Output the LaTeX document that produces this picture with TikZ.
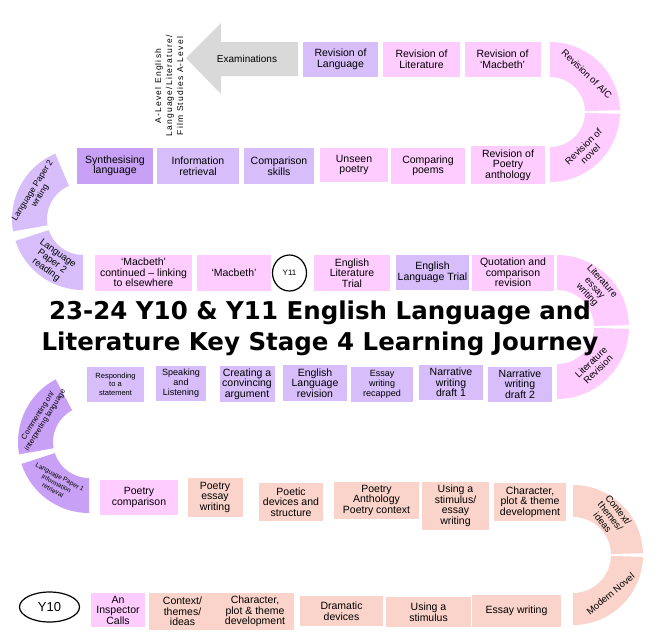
\documentclass[tikz,border=0pt]{standalone}
\usepackage{fontspec}
\setmainfont{Liberation Sans}
\newfontfamily\titlefont{DejaVu Sans}
\newfontfamily\spacedfont[LetterSpace=14]{Liberation Sans}
\usepackage{graphicx}
\usetikzlibrary{shapes.geometric, calc}
\definecolor{lilacbox}{RGB}{215, 190, 250}
\definecolor{violetbox}{RGB}{200, 160, 245}
\definecolor{pinkbox}{RGB}{255, 204, 255}
\definecolor{peachbox}{RGB}{250, 212, 202}
\definecolor{arrowgrey}{RGB}{217, 217, 217}
\newcommand{\boxfont}{\fontsize{10.5}{10.5}\selectfont}
% bend of the track: centre, from angle, to angle, inner radius, outer radius, colour
\newcommand{\trackbend}[6]{%
  \fill[#6] ($(#1)+({-(#2)}:#5)$) arc[start angle={-(#2)}, end angle={-(#3)}, radius=#5]
    -- ($(#1)+({-(#3)}:#4)$) arc[start angle={-(#3)}, end angle={-(#2)}, radius=#4] -- cycle;}

\begin{document}
\begin{tikzpicture}[
    x=1pt, y=-1pt,
    tile/.style={fill=#1, inner sep=1pt, align=center, font=\boxfont},
    bendtext/.style={align=center, inner sep=0pt, font=\fontsize{9.5}{10}\selectfont},
    yearmark/.style={draw, line width=1.2pt, ellipse, inner sep=1pt}
]
    \fill[white] (0,0) rectangle (663,643);
    \useasboundingbox (0,0) rectangle (663,643);

    % Centres of the bends
    \coordinate (bendA) at (550,112);
    \coordinate (bendB) at (557,327);
    \coordinate (bendC) at (573,555);
    \coordinate (bendL) at (83,219);
    \coordinate (bendM) at (89,442);

    % Exit arrow
    \fill[arrowgrey] (186,58) -- (221,23) -- (221,42) -- (298,42) -- (298,76) -- (221,76) -- (221,94) -- cycle;
    \node[font=\fontsize{10}{10}\selectfont] (exams) at (247,59) {Examinations};
    \node[font=\spacedfont\fontsize{8.5}{11}\selectfont, rotate=90, align=center] (alevel) at (169,86)
        {A-Level English\\Language/Literature/\\Film Studies A-Level};

    % Row 1
    \node[tile=lilacbox, minimum width=75, minimum height=35] (revlang) at (340.5,59.5) {Revision of\\Language};
    \node[tile=pinkbox, minimum width=77, minimum height=35] (revlit) at (421.5,59) {Revision of\\Literature};
    \node[tile=pinkbox, minimum width=76, minimum height=35] (revmac) at (502.5,59) {Revision of\\‘Macbeth’};
    \trackbend{bendA}{90}{1.5}{35}{70}{pinkbox}
    \trackbend{bendA}{-1.5}{-90}{35}{70}{pinkbox}
    \node[bendtext, rotate=-44] (revaic) at ($(bendA)+(-46:53)$) {Revision of AIC};
    \node[bendtext, rotate=44] (revnovel) at ($(bendA)+(46:53)$) {Revision of\\novel};

    % Row 2
    \node[tile=violetbox, minimum width=76, minimum height=36] (synth) at (115,166) {Synthesising\\language};
    \node[tile=lilacbox, minimum width=82, minimum height=36] (inforet) at (198,166) {Information\\retrieval};
    \node[tile=lilacbox, minimum width=70, minimum height=36] (compskill) at (279,166) {Comparison\\skills};
    \node[tile=pinkbox, minimum width=68, minimum height=34] (unseen) at (354,165) {Unseen\\poetry};
    \node[tile=pinkbox, minimum width=74, minimum height=36] (comppoems) at (428,166) {Comparing\\poems};
    \node[tile=pinkbox, minimum width=74, minimum height=38] (revanth) at (508,165) {Revision of\\Poetry\\anthology};
    \trackbend{bendL}{113}{190}{36}{71}{lilacbox}
    \trackbend{bendL}{198}{270}{36}{71}{lilacbox}
    \node[bendtext, rotate=58, font=\fontsize{8.5}{9}\selectfont] (lptwowrite) at ($(bendL)+(-151:53)$) {Language Paper 2\\writing};
    \node[bendtext, rotate=-36] (lptworead) at ($(bendL)+(-234:53)$) {Language\\Paper 2\\reading};

    % Row 3
    \node[tile=pinkbox, minimum width=97, minimum height=36] (maccont) at (143.5,272.5) {‘Macbeth’\\continued – linking\\to elsewhere};
    \node[tile=pinkbox, minimum width=74, minimum height=36] (mac) at (234,272.5) {‘Macbeth’};
    \node[yearmark, minimum width=34, minimum height=36, font=\fontsize{8}{8}\selectfont] (yeleven) at (289.5,273) {Y11};
    \node[tile=pinkbox, minimum width=76, minimum height=36] (littrial) at (352,273) {English\\Literature\\Trial};
    \node[tile=lilacbox, minimum width=73, minimum height=35] (langtrial) at (432.5,272.5) {English\\Language Trial};
    \node[tile=pinkbox, minimum width=82, minimum height=36] (quotrev) at (513,272.5) {Quotation and\\comparison\\revision};
    \trackbend{bendB}{90}{1.5}{37}{72}{pinkbox}
    \trackbend{bendB}{-1.5}{-90}{37}{72}{pinkbox}
    \node[bendtext, rotate=-48] (litessay) at ($(bendB)+(-46:54)$) {Literature\\essay\\writing};
    \node[bendtext, rotate=44] (litrev) at ($(bendB)+(46:54)$) {Literature\\Revision};

    % Title
    \node[font=\titlefont\bfseries\fontsize{24.5}{29}\selectfont] (titleA) at (320,313) {23-24 Y10 \& Y11 English Language and};
    \node[font=\titlefont\bfseries\fontsize{24.5}{29}\selectfont] (titleB) at (320,344) {Literature Key Stage 4 Learning Journey};

    % Row 4
    \node[tile=lilacbox, minimum width=57, minimum height=35, font=\fontsize{7.5}{8.5}\selectfont] (respond) at (115.5,384) {Responding\\to a\\statement};
    \node[tile=lilacbox, minimum width=50, minimum height=35, font=\fontsize{9}{10}\selectfont] (speak) at (181,383.5) {Speaking\\and\\Listening};
    \node[tile=lilacbox, minimum width=55, minimum height=36, font=\fontsize{10.5}{10.5}\selectfont] (argue) at (247,384) {Creating a\\convincing\\argument};
    \node[tile=lilacbox, minimum width=64, minimum height=36] (langrev) at (315,383) {English\\Language\\revision};
    \node[tile=lilacbox, minimum width=62, minimum height=35, font=\fontsize{9}{10}\selectfont] (essayrec) at (382,384) {Essay\\writing\\recapped};
    \node[tile=lilacbox, minimum width=64, minimum height=35] (narrone) at (451,382.5) {Narrative\\writing\\draft 1};
    \node[tile=lilacbox, minimum width=64, minimum height=35] (narrtwo) at (520,384) {Narrative\\writing\\draft 2};
    \trackbend{bendM}{118}{190}{36}{71}{violetbox}
    \trackbend{bendM}{198}{270}{36}{71}{violetbox}
    \node[bendtext, rotate=58, font=\fontsize{7.5}{8.5}\selectfont] (interpret) at ($(bendM)+(-153:53)$) {Commenting on/\\interpreting language};
    \node[bendtext, rotate=-28, font=\fontsize{6.5}{7.5}\selectfont] (lponeinfo) at ($(bendM)+(-232:53)$) {Language Paper 1\\Information\\retrieval};

    % Row 5
    \node[tile=pinkbox, minimum width=78, minimum height=35] (poetcomp) at (139,497.5) {Poetry\\comparison};
    \node[tile=peachbox, minimum width=55, minimum height=39] (poetessay) at (215,497) {Poetry\\essay\\writing};
    \node[tile=peachbox, minimum width=64, minimum height=38] (poetdev) at (291,502) {Poetic\\devices and\\structure};
    \node[tile=peachbox, minimum width=85, minimum height=37] (anthcontext) at (376.5,500) {Poetry\\Anthology\\Poetry context};
    \node[tile=peachbox, minimum width=67, minimum height=48] (stimessay) at (455.5,506) {Using a\\stimulus/\\essay\\writing};
    \node[tile=peachbox, minimum width=72, minimum height=38] (charplot) at (530,502) {Character,\\plot \& theme\\development};
    \trackbend{bendC}{90}{1.5}{38}{70}{peachbox}
    \trackbend{bendC}{-1.5}{-90}{38}{70}{peachbox}
    \node[bendtext, rotate=-52] (ctxnovel) at ($(bendC)+(-46:54)$) {Context/\\themes/\\ideas};
    \node[bendtext, rotate=40] (modnovel) at ($(bendC)+(46:54)$) {Modern Novel};

    % Row 6
    \node[yearmark, minimum width=60, minimum height=30, font=\fontsize{13}{13}\selectfont] (yten) at (49.5,607) {Y10};
    \node[tile=pinkbox, minimum width=54, minimum height=34] (inspector) at (118,610) {An\\Inspector\\Calls};
    \node[tile=peachbox, minimum width=67, minimum height=37] (ctxplay) at (182.5,611.5) {Context/\\themes/\\ideas};
    \node[tile=peachbox, minimum width=78, minimum height=37] (charplay) at (255,611.5) {Character,\\plot \& theme\\development};
    \node[tile=peachbox, minimum width=83, minimum height=30] (dramatic) at (341.5,611) {Dramatic\\devices};
    \node[tile=peachbox, minimum width=85, minimum height=30] (usestim) at (428.5,612) {Using a\\stimulus};
    \node[tile=peachbox, minimum width=89, minimum height=32] (essaywrite) at (516.5,611) {Essay writing};
\end{tikzpicture}
\end{document}
